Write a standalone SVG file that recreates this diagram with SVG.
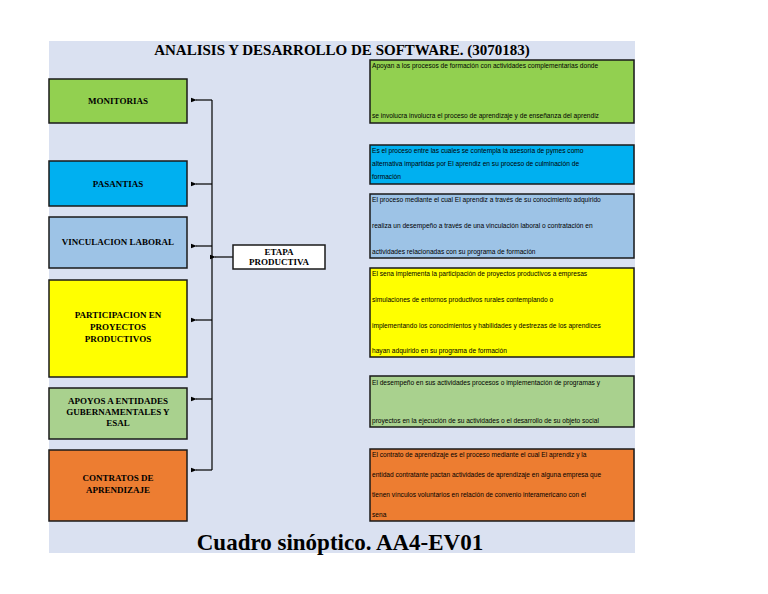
<svg xmlns="http://www.w3.org/2000/svg" width="768" height="594" viewBox="0 0 768 594">
<style>
.b{stroke:#1a1a1a;stroke-width:1.5}
.l{font-family:"Liberation Serif",serif;font-weight:bold;font-size:9px;text-anchor:middle;fill:#000}
.t{font-family:"Liberation Sans",sans-serif;font-size:6.6px;fill:#000}
.c{stroke:#000;stroke-width:1.2;fill:none}
</style>
<defs><marker id="a" markerWidth="6" markerHeight="6" refX="1" refY="3" orient="auto-start-reverse" markerUnits="userSpaceOnUse"><path d="M6,0.8 L0,3 L6,5.2 z" fill="#000"/></marker></defs>
<rect width="768" height="594" fill="#fff"/>
<rect x="49" y="41" width="586" height="512" fill="#dae1f1"/>
<text x="342" y="55" font-family="Liberation Serif,serif" font-weight="bold" font-size="15" text-anchor="middle">ANALISIS Y DESARROLLO DE SOFTWARE. (3070183)</text>
<text x="340" y="550" font-family="Liberation Serif,serif" font-weight="bold" font-size="23" text-anchor="middle">Cuadro sinóptico. AA4-EV01</text>
<g id="connectors">
<path class="c" d="M212,100 V470"/>
<path class="c" d="M212,100 H196" marker-end="url(#a)"/>
<path class="c" d="M212,184 H196" marker-end="url(#a)"/>
<path class="c" d="M212,246 H196" marker-end="url(#a)"/>
<path class="c" d="M212,320 H196" marker-end="url(#a)"/>
<path class="c" d="M212,399 H196" marker-end="url(#a)"/>
<path class="c" d="M212,470 H196" marker-end="url(#a)"/>
<path class="c" d="M233,257 H215" marker-end="url(#a)"/>
</g>
<g id="etapa"><rect class="b" x="233" y="245" width="92" height="24" fill="#fff"/><text class="l" x="279" y="255">ETAPA</text><text class="l" x="279" y="265">PRODUCTIVA</text></g>
<g id="monitorias"><rect class="b" x="49" y="79" width="138" height="44" fill="#92d050"/><text class="l" x="118" y="104">MONITORIAS</text></g>
<g id="pasantias"><rect class="b" x="49" y="161" width="138" height="45" fill="#00b0f0"/><text class="l" x="118" y="187">PASANTIAS</text></g>
<g id="vinculacion"><rect class="b" x="49" y="217" width="138" height="51" fill="#9dc3e6"/><text class="l" x="118" y="245">VINCULACION LABORAL</text></g>
<g id="participacion"><rect class="b" x="49" y="280" width="138" height="97" fill="#ffff00"/><text class="l" x="118" y="318">PARTICIPACION EN</text><text class="l" x="118" y="330">PROYECTOS</text><text class="l" x="118" y="342">PRODUCTIVOS</text></g>
<g id="apoyos"><rect class="b" x="49" y="388" width="138" height="51" fill="#a9d18e"/><text class="l" x="118" y="404">APOYOS A ENTIDADES</text><text class="l" x="118" y="415">GUBERNAMENTALES Y</text><text class="l" x="118" y="426">ESAL</text></g>
<g id="contratos"><rect class="b" x="49" y="450" width="138" height="71" fill="#ed7d31"/><text class="l" x="118" y="481">CONTRATOS DE</text><text class="l" x="118" y="493">APRENDIZAJE</text></g>
<g id="d1"><rect class="b" x="370" y="60" width="264" height="63" fill="#92d050"/><text class="t" x="372" y="68">Apoyan a los procesos de formación con actividades complementarias donde</text><text class="t" x="372" y="118">se involucra involucra el proceso de aprendizaje y de enseñanza del aprendiz</text></g>
<g id="d2"><rect class="b" x="370" y="145" width="264" height="39" fill="#00b0f0"/><text class="t" x="372" y="153">Es el proceso entre las cuales se contempla la asesoría de pymes como</text><text class="t" x="372" y="166">alternativa impartidas por El aprendiz en su proceso de culminación de</text><text class="t" x="372" y="179">formación</text></g>
<g id="d3"><rect class="b" x="370" y="194" width="264" height="64" fill="#9dc3e6"/><text class="t" x="372" y="202">El proceso mediante el cual El aprendiz a través de su conocimiento adquirido</text><text class="t" x="372" y="228">realiza un desempeño a través de una vinculación laboral o contratación en</text><text class="t" x="372" y="254">actividades relacionadas con su programa de formación</text></g>
<g id="d4"><rect class="b" x="370" y="268" width="264" height="89" fill="#ffff00"/><text class="t" x="372" y="276">El sena implementa la participación de proyectos productivos a empresas</text><text class="t" x="372" y="302">simulaciones de entornos productivos rurales contemplando o</text><text class="t" x="372" y="328">implementando los conocimientos y habilidades y destrezas de los aprendices</text><text class="t" x="372" y="353">hayan adquirido en su programa de formación</text></g>
<g id="d5"><rect class="b" x="370" y="376" width="264" height="51" fill="#a9d18e"/><text class="t" x="372" y="385">El desempeño en sus actividades procesos o implementación de programas y</text><text class="t" x="372" y="423">proyectos en la ejecución de su actividades o el desarrollo de su objeto social</text></g>
<g id="d6"><rect class="b" x="370" y="449" width="264" height="72" fill="#ed7d31"/><text class="t" x="372" y="457">El contrato de aprendizaje es el proceso mediante el cual El aprendiz y la</text><text class="t" x="372" y="477">entidad contratante pactan actividades de aprendizaje en alguna empresa que</text><text class="t" x="372" y="497">tienen vínculos voluntarios en relación de convenio interamericano con el</text><text class="t" x="372" y="517">sena</text></g>
</svg>
